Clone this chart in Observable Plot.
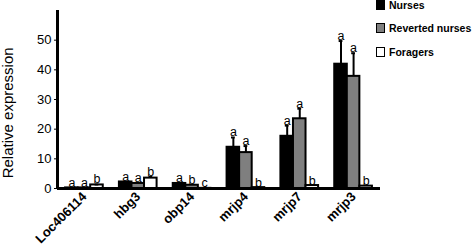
<!DOCTYPE html>
<html><head><meta charset="utf-8">
<script src="https://cdn.jsdelivr.net/npm/d3@7"></script>
<script src="https://cdn.jsdelivr.net/npm/@observablehq/plot@0.6"></script>
<style>
body{margin:0;background:#fff;font-family:"Liberation Sans",Arial,sans-serif}
#wrap{position:relative;width:474px;height:246px;overflow:hidden}
#legend{position:absolute;left:376px;top:-1px;font-weight:bold;font-size:10.5px;color:#000;white-space:nowrap}
#legend .item{display:flex;align-items:center;height:11px;margin-bottom:12.5px}
#legend .sw{width:7px;height:8px;border:1px solid #000;margin-right:4px;box-sizing:content-box}
svg text{fill:#000}
</style></head><body>
<div id="wrap"><div id="legend"></div></div>
<script>
const genes = ["Loc406114", "hbg3", "obp14", "mrjp4", "mrjp7", "mrjp3"];
const groups = ["Nurses", "Reverted nurses", "Foragers"];
const nurses = [0.2, 2.2, 1.7, 13.9, 17.6, 41.9];
const nursesErr = [0, 0, 0, 3.3, 3.6, 7.8];
const reverted = [0.2, 1.7, 1.1, 12.1, 23.5, 37.8];
const revertedErr = [0, 0, 0, 2.2, 3.4, 7.8];
const foragers = [1.2, 3.5, 0.05, 0.3, 1.0, 0.8];
const foragersErr = [0.15, 0.4, 0, 0, 0, 0];
const nursesSig = ["a", "a", "a", "a", "a", "a"];
const revertedSig = ["a", "a", "b", "a", "a", "a"];
const foragersSig = ["b", "b", "c", "b", "b", "b"];
const fills = ["#000000", "#7f7f7f", "#ffffff"];
const yTicks = [0, 10, 20, 30, 40, 50];
const yMax = 60;
const yLabel = "Relative expression";

const values = [nurses, reverted, foragers];
const errs = [nursesErr, revertedErr, foragersErr];
const sigs = [nursesSig, revertedSig, foragersSig];

const pad = 0.15, bw = 0.7 / 3;
const rows = [];
genes.forEach((g, gi) => {
  groups.forEach((s, si) => {
    const x1 = gi + pad + si * bw;
    rows.push({gene: g, group: s, fill: fills[si], value: values[si][gi], err: errs[si][gi],
      sig: sigs[si][gi], x1, x2: x1 + bw, xc: x1 + bw / 2, top: values[si][gi] + errs[si][gi]});
  });
});
const errRows = rows.filter(d => d.err > 0);
const cap = 0.035;

const chart = Plot.plot({
  width: 474, height: 246,
  marginLeft: 57, marginRight: 94, marginTop: 10, marginBottom: 58,
  style: {fontFamily: '"Liberation Sans", Arial, sans-serif', fontSize: "13px", color: "#000", background: "#fff"},
  x: {domain: [0, genes.length], ticks: genes.map((g, i) => i + 0.5), tickFormat: v => genes[Math.floor(v)],
      tickRotate: -45, tickSize: 0, tickPadding: 6, label: null},
  y: {domain: [0, yMax], ticks: yTicks, tickSize: 3, tickPadding: 3, label: null},
  marks: [
    Plot.rect(rows, {x1: "x1", x2: "x2", y1: 0, y2: "value", fill: "fill", stroke: "#000", strokeWidth: 2}),
    Plot.ruleX(errRows, {x: "xc", y1: "value", y2: "top", stroke: "#000", strokeWidth: 2}),
    Plot.ruleY(errRows, {y: "top", x1: d => d.xc - cap, x2: d => d.xc + cap, stroke: "#000", strokeWidth: 2}),
    Plot.text(rows, {x: "xc", y: "top", text: "sig", lineAnchor: "bottom", dy: -1, fontSize: 12.5, fill: "#000"}),
    Plot.ruleY([0], {x1: 0, x2: genes.length, stroke: "#000", strokeWidth: 3}),
    Plot.ruleX([0], {y1: 0, y2: yMax, stroke: "#000", strokeWidth: 3}),
    Plot.text([yLabel], {frameAnchor: "left", y: [25.5], text: d => d, rotate: -90, dx: -49,
      textAnchor: "middle", fontSize: 15, fill: "#000"})
  ]
});
chart.querySelectorAll('[aria-label="x-axis tick label"] text, [aria-label="x-axis tick label"]').forEach(e => e.setAttribute("font-weight", "bold"));
document.getElementById("wrap").prepend(chart);

const legend = document.getElementById("legend");
groups.forEach((g, i) => {
  const item = document.createElement("div");
  item.className = "item";
  const sw = document.createElement("span");
  sw.className = "sw";
  sw.style.background = fills[i];
  const t = document.createElement("span");
  t.textContent = g;
  item.append(sw, t);
  legend.append(item);
});
</script>
</body></html>
